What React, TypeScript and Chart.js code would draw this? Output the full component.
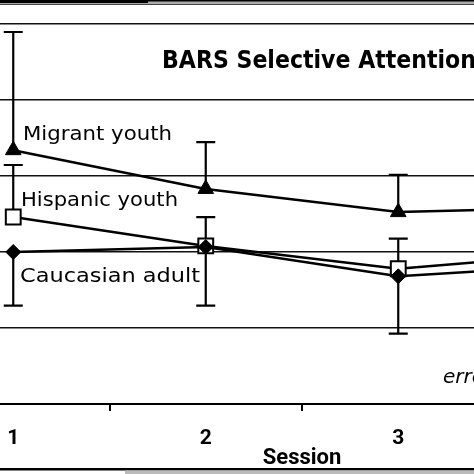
import React, { useEffect, useRef } from "react";
import { Chart, registerables } from "chart.js";

Chart.register(...registerables);

// ---- data ----
const sessions = ["1", "2", "3", "4"];
const migrantMean = [6.68, 5.66, 5.05, 5.18];
const migrantErrUp = [3.11, 1.23, 0.98, 1.0];
const hispanicMean = [4.92, 4.16, 3.56, 3.98];
const hispanicErrUp = [1.37, 0.76, 0.79, 0.8];
const caucasianMean = [4.0, 4.13, 3.36, 3.67];
const caucasianErrDown = [1.41, 1.54, 1.51, 1.4];
const yTicks = [0, 2, 4, 6, 8, 10];

const OFFSET = 83; // canvas is shifted left so the page shows a cropped view
const CANVAS_W = 770;
const CANVAS_H = 474;

function fitText(ctx: CanvasRenderingContext2D, text: string, x: number, baseline: number, font: string, width?: number) {
  ctx.save();
  ctx.font = font;
  ctx.fillStyle = "#000";
  ctx.textAlign = "left";
  ctx.textBaseline = "alphabetic";
  const w = ctx.measureText(text).width;
  ctx.translate(x + OFFSET, baseline);
  if (width) ctx.scale(width / w, 1);
  ctx.fillText(text, 0, 0);
  ctx.restore();
}

const errorBarPlugin = {
  id: "errorBars",
  beforeDatasetsDraw(chart: any) {
    const ctx = chart.ctx as CanvasRenderingContext2D;
    const xs = chart.scales.x;
    const ys = chart.scales.y;
    const groups: [number[], number[], number][] = [
      [migrantMean, migrantErrUp, 1],
      [hispanicMean, hispanicErrUp, 1],
      [caucasianMean, caucasianErrDown, -1],
    ];
    ctx.save();
    ctx.beginPath();
    ctx.rect(chart.chartArea.left, chart.chartArea.top - 2, chart.chartArea.right - chart.chartArea.left, chart.chartArea.bottom - chart.chartArea.top + 4);
    ctx.clip();
    ctx.strokeStyle = "#000";
    ctx.lineWidth = 2.2;
    groups.forEach(([mean, err, dir]) => {
      mean.forEach((m, i) => {
        const x = xs.getPixelForValue(i);
        const y0 = ys.getPixelForValue(m);
        const y1 = ys.getPixelForValue(m + dir * err[i]);
        ctx.beginPath();
        ctx.moveTo(x, y0);
        ctx.lineTo(x, y1);
        ctx.moveTo(x - 9.5, y1);
        ctx.lineTo(x + 9.5, y1);
        ctx.stroke();
      });
    });
    ctx.restore();
  },
};

const decorPlugin = {
  id: "decor",
  afterDraw(chart: any) {
    const ctx = chart.ctx as CanvasRenderingContext2D;
    // in-plot texts
    fitText(ctx, "BARS Selective Attention", 162, 68, "bold 25px 'DejaVu Sans'", 314);
    fitText(ctx, "Migrant youth", 23, 140, "20px 'DejaVu Sans'", 149);
    fitText(ctx, "Hispanic youth", 21, 206, "20px 'DejaVu Sans'", 157);
    fitText(ctx, "Caucasian adult", 20, 282, "20px 'DejaVu Sans'", 180);
    fitText(ctx, "errors", 443, 383, "italic 20px 'DejaVu Sans'");
    // frame lines of the original figure
    ctx.save();
    ctx.fillStyle = "#aaa";
    ctx.fillRect(0, 0, CANVAS_W, 4);
    ctx.fillStyle = "#000";
    ctx.fillRect(0, 0, CANVAS_W, 1.5);
    ctx.fillRect(OFFSET, 0, 148, 3);
    ctx.fillStyle = "#444";
    ctx.fillRect(0, 4, CANVAS_W, 1);
    ctx.fillStyle = "#000";
    ctx.fillRect(0, 468, CANVAS_W, 2.5);
    ctx.fillStyle = "#bbb";
    ctx.fillRect(OFFSET + 125, 470.5, CANVAS_W, 4);
    ctx.restore();
  },
};

export default function App() {
  const ref = useRef<HTMLCanvasElement>(null);
  useEffect(() => {
    if (!ref.current) return;
    const chart = new Chart(ref.current, {
      type: "line",
      data: {
        labels: sessions,
        datasets: [
          {
            label: "Migrant youth",
            data: migrantMean,
            borderColor: "#000",
            backgroundColor: "#000",
            borderWidth: 2.5,
            pointStyle: "triangle",
            pointRadius: 9,
            pointBorderWidth: 1,
            pointBackgroundColor: "#000",
            pointBorderColor: "#000",
            tension: 0,
          },
          {
            label: "Caucasian adult",
            data: caucasianMean,
            borderColor: "#000",
            backgroundColor: "#000",
            borderWidth: 2.5,
            pointStyle: "rectRot",
            pointRadius: 7.5,
            pointBorderWidth: 1,
            pointBackgroundColor: "#000",
            pointBorderColor: "#000",
            tension: 0,
          },
          {
            label: "Hispanic youth",
            data: hispanicMean,
            borderColor: "#000",
            backgroundColor: "#fff",
            borderWidth: 2.5,
            pointStyle: "rect",
            pointRadius: 10.5,
            pointBorderWidth: 2,
            pointBackgroundColor: "#fff",
            pointBorderColor: "#000",
            tension: 0,
          },
        ],
      },
      options: {
        responsive: false,
        animation: false,
        devicePixelRatio: 1,
        layout: { autoPadding: false, padding: { top: 24, left: 0, right: 0, bottom: 0 } },
        plugins: {
          legend: { display: false },
          tooltip: { enabled: false },
          title: { display: false },
        },
        scales: {
          x: {
            type: "category",
            offset: true,
            grid: {
              offset: true,
              drawOnChartArea: false,
              drawTicks: true,
              tickLength: 7,
              lineWidth: 2,
              color: "#000",
            },
            border: { display: true, color: "#000", width: 2 },
            ticks: {
              color: "#000",
              padding: 15,
              font: { family: "Roboto", weight: "bold", size: 21 },
              maxRotation: 0,
              autoSkip: false,
            },
            title: {
              display: true,
              text: "Session",
              color: "#000",
              font: { family: "Roboto", weight: "bold", size: 22 },
              padding: { top: 0, bottom: 2 },
            },
            afterFit: (s: any) => {
              s.height = 70;
              s.paddingLeft = 0;
              s.paddingRight = 0;
            },
          },
          y: {
            min: 0,
            max: 10,
            afterBuildTicks: (s: any) => {
              s.ticks = yTicks.map((v) => ({ value: v }));
            },
            grid: { color: "#111", lineWidth: 1.5, drawTicks: false },
            border: { display: false },
            ticks: { display: false },
            afterFit: (s: any) => {
              s.width = 0;
              s.paddingTop = 0;
              s.paddingBottom = 0;
            },
          },
        },
      },
      plugins: [errorBarPlugin, decorPlugin],
    });
    return () => chart.destroy();
  }, []);

  return (
    <div style={{ position: "fixed", left: 0, top: 0, width: 474, height: 474, overflow: "hidden", background: "#fff" }}>
      <div style={{ position: "absolute", left: -OFFSET, top: 0, width: CANVAS_W, height: CANVAS_H }}>
        <canvas ref={ref} width={CANVAS_W} height={CANVAS_H} style={{ display: "block", width: CANVAS_W, height: CANVAS_H }} />
      </div>
    </div>
  );
}
